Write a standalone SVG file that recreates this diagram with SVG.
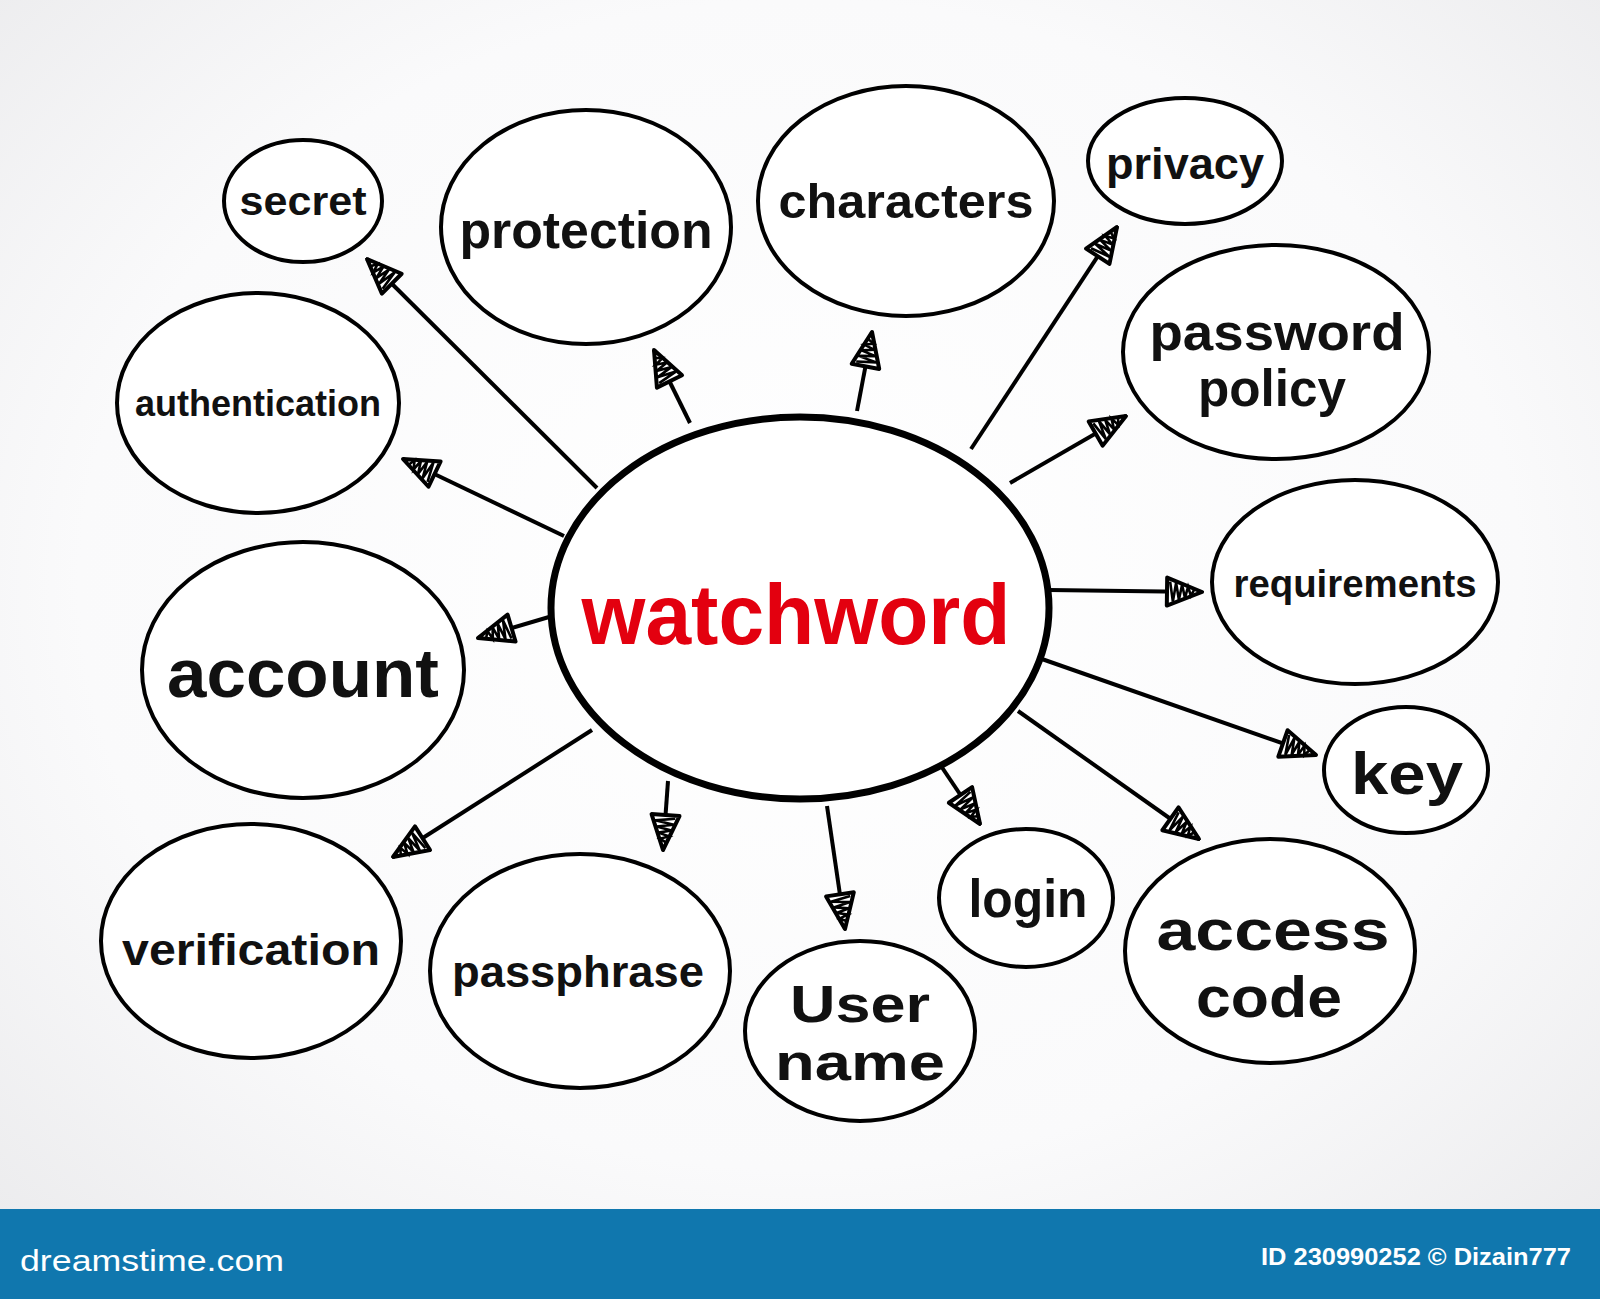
<svg xmlns="http://www.w3.org/2000/svg" width="1600" height="1299" viewBox="0 0 1600 1299">
<defs>
<radialGradient id="bg" cx="50%" cy="45%" r="75%">
<stop offset="0" stop-color="#ffffff"/>
<stop offset="0.6" stop-color="#fafafb"/>
<stop offset="1" stop-color="#e9e9eb"/>
</radialGradient>
<marker id="ah" viewBox="0 0 40 36" refX="38" refY="18" markerWidth="40" markerHeight="36" markerUnits="userSpaceOnUse" orient="auto">
<path d="M3,4 L38,18 L3,32 Z" fill="#fff" stroke="#000" stroke-width="4" stroke-linejoin="round"/>
<path d="M6,8 L9,28 L12,9 L15,26 L18,11 L21,24 L24,13 L27,22 L30,16" fill="none" stroke="#000" stroke-width="2.6"/>
</marker>
</defs>
<style>
.n{fill:#fff;stroke:#000;stroke-width:4}
.c{fill:#fff;stroke:#000;stroke-width:7}
.t{font-family:"Liberation Sans",Arial,sans-serif;font-weight:bold;fill:#111;text-anchor:middle;dominant-baseline:central}
.e line{stroke:#000;stroke-width:4;marker-end:url(#ah)}
</style>
<rect width="1600" height="1299" fill="url(#bg)"/>
<g id="connectors" class="e">
<line x1="597" y1="488" x2="367" y2="259"/>
<line x1="690" y1="423" x2="654" y2="350"/>
<line x1="857" y1="411" x2="872" y2="332"/>
<line x1="971" y1="449" x2="1117" y2="227"/>
<line x1="1010" y1="483" x2="1126" y2="416"/>
<line x1="564" y1="536" x2="403" y2="459"/>
<line x1="1049" y1="590" x2="1202" y2="592"/>
<line x1="549" y1="617" x2="478" y2="638"/>
<line x1="1039" y1="658" x2="1316" y2="755"/>
<line x1="1018" y1="711" x2="1199" y2="839"/>
<line x1="939" y1="763" x2="980" y2="824"/>
<line x1="827" y1="806" x2="845" y2="929"/>
<line x1="668" y1="781" x2="663" y2="850"/>
<line x1="592" y1="730" x2="393" y2="857"/>
</g>
<g id="center">
<ellipse class="c" cx="800" cy="608" rx="249" ry="191"/>
<text class="t" x="796" y="614" font-size="86" style="fill:#e3000f" textLength="429" lengthAdjust="spacingAndGlyphs">watchword</text>
</g>
<g id="secret"><ellipse class="n" cx="303" cy="201" rx="79" ry="61"/><text class="t" x="303" y="201" font-size="40" textLength="127" lengthAdjust="spacingAndGlyphs">secret</text></g>
<g id="protection"><ellipse class="n" cx="586" cy="227" rx="145" ry="117"/><text class="t" x="586" y="230" font-size="52" textLength="253" lengthAdjust="spacingAndGlyphs">protection</text></g>
<g id="characters"><ellipse class="n" cx="906" cy="201" rx="148" ry="115"/><text class="t" x="906" y="201" font-size="48" textLength="255" lengthAdjust="spacingAndGlyphs">characters</text></g>
<g id="privacy"><ellipse class="n" cx="1185" cy="161" rx="97" ry="63"/><text class="t" x="1185" y="163" font-size="44" textLength="158" lengthAdjust="spacingAndGlyphs">privacy</text></g>
<g id="password-policy"><ellipse class="n" cx="1276" cy="352" rx="153" ry="107"/><text class="t" x="1277" y="332" font-size="52" textLength="255" lengthAdjust="spacingAndGlyphs">password</text><text class="t" x="1272" y="388" font-size="52" textLength="148" lengthAdjust="spacingAndGlyphs">policy</text></g>
<g id="authentication"><ellipse class="n" cx="258" cy="403" rx="141" ry="110"/><text class="t" x="258" y="403" font-size="36" textLength="246" lengthAdjust="spacingAndGlyphs">authentication</text></g>
<g id="requirements"><ellipse class="n" cx="1355" cy="582" rx="143" ry="102"/><text class="t" x="1355" y="584" font-size="38" textLength="243" lengthAdjust="spacingAndGlyphs">requirements</text></g>
<g id="account"><ellipse class="n" cx="303" cy="670" rx="161" ry="128"/><text class="t" x="303" y="673" font-size="68" textLength="272" lengthAdjust="spacingAndGlyphs">account</text></g>
<g id="key"><ellipse class="n" cx="1406" cy="770" rx="82" ry="63"/><text class="t" x="1407" y="773" font-size="60" textLength="112" lengthAdjust="spacingAndGlyphs">key</text></g>
<g id="verification"><ellipse class="n" cx="251" cy="941" rx="150" ry="117"/><text class="t" x="251" y="949" font-size="44" textLength="258" lengthAdjust="spacingAndGlyphs">verification</text></g>
<g id="passphrase"><ellipse class="n" cx="580" cy="971" rx="150" ry="117"/><text class="t" x="578" y="971" font-size="44" textLength="252" lengthAdjust="spacingAndGlyphs">passphrase</text></g>
<g id="user-name"><ellipse class="n" cx="860" cy="1031" rx="115" ry="90"/><text class="t" x="860" y="1004" font-size="52" textLength="140" lengthAdjust="spacingAndGlyphs">User</text><text class="t" x="860" y="1062" font-size="52" textLength="170" lengthAdjust="spacingAndGlyphs">name</text></g>
<g id="login"><ellipse class="n" cx="1026" cy="898" rx="87" ry="69"/><text class="t" x="1028" y="898" font-size="54" textLength="119" lengthAdjust="spacingAndGlyphs">login</text></g>
<g id="access-code"><ellipse class="n" cx="1270" cy="951" rx="145" ry="112"/><text class="t" x="1273" y="929" font-size="58" textLength="233" lengthAdjust="spacingAndGlyphs">access</text><text class="t" x="1269" y="996" font-size="58" textLength="146" lengthAdjust="spacingAndGlyphs">code</text></g>
<g id="footer">
<rect x="0" y="1209" width="1600" height="90" fill="#1077ae"/>
<text x="20" y="1271" font-family="'Liberation Sans',Arial,sans-serif" font-size="30" fill="#fff" textLength="264" lengthAdjust="spacingAndGlyphs">dreamstime.com</text>
<text x="1571" y="1265" font-family="'Liberation Sans',Arial,sans-serif" font-weight="bold" font-size="24" fill="#fff" text-anchor="end" textLength="310" lengthAdjust="spacingAndGlyphs">ID 230990252 © Dizain777</text>
</g>
</svg>
